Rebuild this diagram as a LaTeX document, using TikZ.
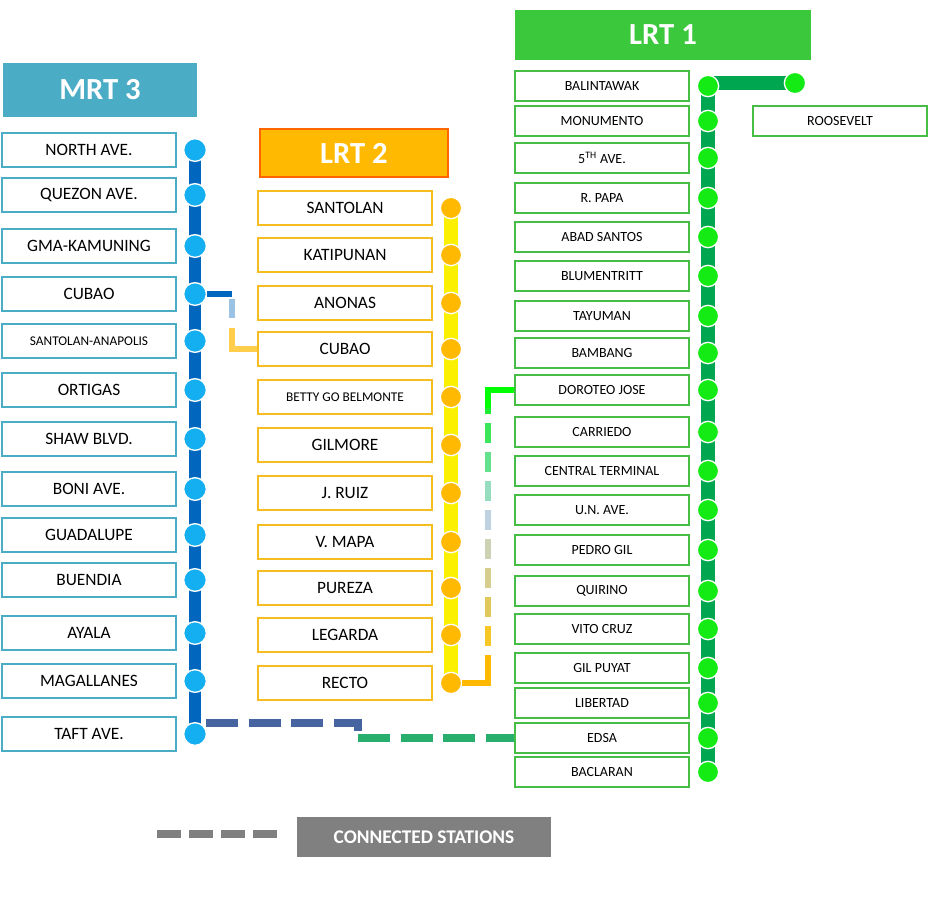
\documentclass[tikz,border=0pt]{standalone}
\usepackage{fontspec}
\setmainfont{Carlito}
\begin{document}
\begin{tikzpicture}[x=0.75pt,y=-0.75pt,
  mbox/.style={draw=mrtb,line width=1.6pt,fill=white,minimum width=130.5pt,minimum height=25pt,inner sep=0pt,font=\fontsize{13}{14}\selectfont},
  lbox/.style={draw=lrtb,line width=1.6pt,fill=white,minimum width=130.5pt,minimum height=26pt,inner sep=0pt,font=\fontsize{13}{14}\selectfont},
  gbox/.style={draw=gb,line width=1.6pt,fill=white,minimum width=130.5pt,minimum height=22pt,inner sep=0pt,font=\fontsize{10.5}{12}\selectfont},
  mdot/.style={circle,fill=mdotc,draw=white,line width=1pt,minimum size=17pt,inner sep=0pt},
  ldot/.style={circle,fill=ldotc,draw=white,line width=1pt,minimum size=16pt,inner sep=0pt},
  gdot/.style={circle,fill=gdotc,draw=white,line width=1pt,minimum size=16pt,inner sep=0pt},
  ttl/.style={text=white,font=\bfseries\fontsize{23}{26}\selectfont,inner sep=0pt}]
\definecolor{mrtb}{RGB}{75,172,198}
\definecolor{mline}{RGB}{0,102,190}
\definecolor{mdotc}{RGB}{20,175,240}
\definecolor{lrtb}{RGB}{245,190,30}
\definecolor{lline}{RGB}{250,240,0}
\definecolor{ldotc}{RGB}{255,185,0}
\definecolor{gb}{RGB}{70,190,70}
\definecolor{gline}{RGB}{0,166,80}
\definecolor{gdotc}{RGB}{20,235,20}
\definecolor{lgray}{RGB}{128,128,128}
\definecolor{taftc}{RGB}{70,100,160}
\definecolor{edsac}{RGB}{40,175,110}
\definecolor{q0}{RGB}{245,200,40}
\definecolor{q1}{RGB}{225,200,90}
\definecolor{q2}{RGB}{215,205,140}
\definecolor{q3}{RGB}{205,210,180}
\definecolor{q4}{RGB}{190,210,225}
\definecolor{q5}{RGB}{150,220,190}
\definecolor{q6}{RGB}{100,225,140}
\definecolor{q7}{RGB}{60,230,90}
\definecolor{q8}{RGB}{30,235,50}
\useasboundingbox (0,0) rectangle (929,900);
% titles
\node[fill=mrtb,minimum width=145pt,minimum height=40pt,ttl] (tm) at (100,90) {MRT 3};
\node[fill=ldotc,draw=orange!80!red,line width=1pt,minimum width=141pt,minimum height=36pt,ttl] (tl) at (354,153) {LRT 2};
\node[fill=gb!85!green,minimum width=222pt,minimum height=37pt,ttl] (tg) at (663,35) {LRT 1};
% lines
\draw[mline,line width=9pt] (195,150) -- (195,729);
\draw[lline,line width=10.5pt] (451,208) -- (451,683);
\draw[gline,line width=10.5pt] (708,86) -- (708,772);
\draw[gline,line width=10.5pt] (708,83) -- (795,83);
% MRT3
\foreach \n/\y/\t/\f in {m1/150/NORTH AVE./13,m2/195/QUEZON AVE./13,m3/246/GMA-KAMUNING/13,m4/294/CUBAO/13,m5/341/SANTOLAN-ANAPOLIS/10,m6/390/ORTIGAS/13,m7/439/SHAW BLVD./13,m8/489/BONI AVE./13,m9/535/GUADALUPE/13,m10/580/BUENDIA/13,m11/633/AYALA/13,m12/681/MAGALLANES/13,m13/734/TAFT AVE./13}{
  \node[mbox,font=\fontsize{\f}{14}\selectfont] (\n) at (89,\y) {\t};
  \node[mdot] (d\n) at (195,\y) {};}
% LRT2
\foreach \n/\y/\t/\f in {l1/208/SANTOLAN/13,l2/255/KATIPUNAN/13,l3/303/ANONAS/13,l4/349/CUBAO/13,l5/397/BETTY GO BELMONTE/10,l6/445/GILMORE/13,l7/493/J. RUIZ/13,l8/542/V. MAPA/13,l9/588/PUREZA/13,l10/635/LEGARDA/13,l11/683/RECTO/13}{
  \node[lbox,font=\fontsize{\f}{14}\selectfont] (\n) at (345,\y) {\t};
  \node[ldot] (d\n) at (451,\y) {};}
% LRT1
\foreach \n/\y/\t in {g1/86/BALINTAWAK,g2/121/MONUMENTO,g3/158/5\textsuperscript{TH} AVE.,g4/198/R. PAPA,g5/237/ABAD SANTOS,g6/276/BLUMENTRITT,g7/316/TAYUMAN,g8/353/BAMBANG,g9/390/DOROTEO JOSE,g10/432/CARRIEDO,g11/471/CENTRAL TERMINAL,g12/510/U.N. AVE.,g13/550/PEDRO GIL,g14/591/QUIRINO,g15/629/VITO CRUZ,g16/668/GIL PUYAT,g17/703/LIBERTAD,g18/738/EDSA,g19/772/BACLARAN}{
  \node[gbox] (\n) at (602,\y) {\t};
  \node[gdot] (d\n) at (708,\y) {};}
\node[gdot] (g0) at (795,83) {};
\node[gbox] (roos) at (840,121) {ROOSEVELT};
% connectors
\coordinate (c1) at (232,294);
\coordinate (c2) at (232,349);
\draw[mline,line width=5pt] (dm4.east) -- (c1);
\draw[mline!40!white,line width=5pt] (232,299) -- (232,318);
\draw[ldotc!70!white,line width=5pt] (232,328) -- (c2) -- (l4.west);
% Recto - Doroteo Jose
\coordinate (r1) at (488,683);
\coordinate (r2) at (488,390);
\draw[ldotc,line width=5pt] (dl11.east) -- (r1) -- (488,655);
\foreach \i in {0,...,8}{
  \pgfmathsetmacro{\ya}{646-\i*29}
  \pgfmathsetmacro{\yb}{\ya-20}
  \draw[color=q\i,line width=5pt] (488,\ya) -- (488,\yb);}
\draw[green,line width=5pt] (488,370+38) -- (r2) -- (g9.west);
% Taft - EDSA
\coordinate (t0) at (206,723);
\coordinate (t1) at (358,723);
\coordinate (t2) at (358,738);
\draw[taftc,line width=6pt,dash pattern=on 24pt off 8pt] (t0) -- (t1) -- (t2);
\draw[edsac,line width=6pt,dash pattern=on 24pt off 8pt] (t2) -- (g18.west);
% legend
\coordinate (k1) at (157,834);
\coordinate (k2) at (277,834);
\draw[lgray,line width=5.5pt,dash pattern=on 18pt off 6pt] (k1) -- (k2);
\node[fill=lgray,minimum width=190pt,minimum height=30pt,text=white,font=\bfseries\fontsize{14.5}{16}\selectfont] (leg) at (424,837) {CONNECTED STATIONS};
\end{tikzpicture}
\end{document}
